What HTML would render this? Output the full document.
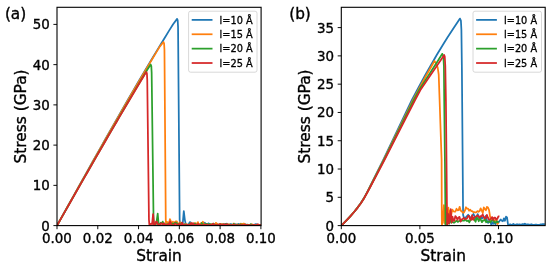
<!DOCTYPE html>
<html lang="en"><head><meta charset="utf-8"><title>Stress-strain curves</title>
<style>html,body{margin:0;padding:0;background:#fff}svg{display:block}</style></head>
<body>
<svg width="550" height="266" viewBox="0 0 550 266" font-family='"DejaVu Sans", "Liberation Sans", sans-serif'>
<rect width="550" height="266" fill="#fff"/>
<clipPath id="cl"><rect x="57.0" y="7.3" width="204.10" height="218.30"/></clipPath>
<clipPath id="cr"><rect x="341.3" y="7.3" width="203.90" height="218.30"/></clipPath>
<g clip-path="url(#cl)" fill="none" stroke-width="1.75" stroke-linejoin="round">
<polyline stroke="#1f77b4" points="57.00,225.60 61.00,218.40 65.01,211.21 69.01,204.02 73.01,196.84 77.02,189.66 81.02,182.49 85.02,175.33 89.03,168.19 93.03,161.05 97.03,153.94 101.04,146.84 105.04,139.76 109.04,132.71 113.05,125.68 117.05,118.67 121.05,111.69 125.06,104.73 129.06,97.81 133.06,90.92 137.07,84.06 141.07,77.24 145.07,70.46 149.08,63.72 153.08,57.01 157.08,50.35 161.09,43.74 165.09,37.17 169.09,30.65 173.10,24.18 177.10,18.90 177.70,20.40 178.05,26.90 179.65,219.60 180.05,224.80 180.80,225.28 181.80,222.53 182.80,222.86 183.80,211.10 184.80,219.60 185.80,224.34 186.80,224.28 187.80,225.25 188.80,223.99 189.80,222.06 190.80,222.61 191.80,225.18 192.80,224.20 193.80,225.12 194.80,224.73 195.80,224.61 196.80,224.06 197.80,225.04 198.80,225.12 199.80,224.33 200.80,224.08 201.80,223.17 202.80,224.79 203.80,224.42 204.80,222.73 205.80,224.26 206.80,224.73 207.80,223.80 208.80,223.44 209.80,225.30 210.80,224.24 211.80,225.07 212.80,224.46 213.80,224.90 214.80,224.52 215.80,225.01 216.80,224.74 217.80,224.19 218.80,225.12 219.80,224.47 220.80,224.98 221.80,225.09 222.80,224.21 223.80,224.04 224.80,224.68 225.80,224.52 226.80,223.65 227.80,225.23 228.80,224.85 229.80,224.66 230.80,224.06 231.80,224.60 232.80,224.78 233.80,224.99 234.80,224.51 235.80,224.19 236.80,224.82 237.80,224.84 238.80,223.86 239.80,225.06 240.80,225.14 241.80,224.71 242.80,225.00 243.80,225.34 244.80,225.08 245.80,224.67 246.80,224.89 247.80,225.27 248.80,224.98 249.80,224.96 250.80,224.55 251.80,224.91 252.80,225.22 253.80,224.90 254.80,224.45 255.80,224.09 256.80,224.25 257.80,224.74 258.80,225.03 259.80,225.29 260.80,224.67"/>
<polyline stroke="#ff7f0e" points="57.00,225.60 60.55,219.25 64.10,212.89 67.65,206.54 71.20,200.20 74.75,193.85 78.30,187.52 81.85,181.19 85.40,174.87 88.95,168.56 92.50,162.26 96.05,155.97 99.60,149.70 103.15,143.44 106.70,137.20 110.25,130.97 113.80,124.77 117.35,118.58 120.90,112.41 124.45,106.27 128.00,100.15 131.55,94.05 135.10,87.98 138.65,81.94 142.20,75.92 145.75,69.94 149.30,63.98 152.85,58.06 156.40,52.17 159.95,46.32 163.50,42.00 164.10,43.50 164.45,50.00 165.75,219.60 166.15,224.80 166.90,222.02 167.90,222.07 168.90,223.91 169.90,219.10 170.90,221.43 171.90,224.62 172.90,221.60 173.90,224.79 174.90,221.91 175.90,221.40 176.90,221.46 177.90,224.12 178.90,223.87 179.90,222.08 180.90,224.49 181.90,223.86 182.90,224.77 183.90,225.32 184.90,224.96 185.90,223.98 186.90,224.64 187.90,224.80 188.90,225.19 189.90,224.97 190.90,223.16 191.90,224.53 192.90,223.36 193.90,225.04 194.90,223.05 195.90,223.25 196.90,224.53 197.90,222.14 198.90,225.26 199.90,224.67 200.90,223.25 201.90,223.45 202.90,221.73 203.90,224.21 204.90,224.46 205.90,224.55 206.90,224.25 207.90,225.00 208.90,224.90 209.90,225.11 210.90,223.97 211.90,225.32 212.90,224.23 213.90,224.84 214.90,224.96 215.90,222.84 216.90,223.67 217.90,224.44 218.90,224.68 219.90,224.70 220.90,224.75 221.90,223.91 222.90,224.48 223.90,224.27 224.90,225.23 225.90,224.62 226.90,224.60 227.90,224.85 228.90,224.21 229.90,224.81 230.90,225.26 231.90,225.11 232.90,225.02 233.90,223.52 234.90,225.28 235.90,225.14 236.90,224.35 237.90,224.82 238.90,224.77 239.90,224.70 240.90,223.56 241.90,224.68 242.90,223.75 243.90,223.50 244.90,224.65 245.90,225.02 246.90,224.96 247.90,224.88 248.90,224.90 249.90,225.18 250.90,225.21 251.90,224.13 252.90,225.22 253.90,224.75 254.90,225.25 255.90,224.98 256.90,224.87 257.90,224.71 258.90,225.11 259.90,225.11 260.90,225.28"/>
<polyline stroke="#2ca02c" points="57.00,225.60 60.12,220.10 63.25,214.60 66.37,209.10 69.49,203.60 72.62,198.11 75.74,192.62 78.86,187.14 81.99,181.66 85.11,176.19 88.23,170.72 91.36,165.26 94.48,159.81 97.60,154.38 100.73,148.95 103.85,143.53 106.97,138.12 110.10,132.73 113.22,127.35 116.34,121.99 119.47,116.64 122.59,111.30 125.71,105.99 128.84,100.69 131.96,95.41 135.08,90.15 138.21,84.90 141.33,79.68 144.45,74.48 147.58,69.31 150.70,64.60 151.30,66.10 151.65,72.60 153.55,219.60 153.95,224.80 154.70,224.35 155.70,224.99 156.70,220.60 157.70,213.60 158.70,225.32 159.70,224.18 160.70,222.72 161.70,223.63 162.70,221.60 163.70,223.98 164.70,224.99 165.70,224.33 166.70,224.83 167.70,224.35 168.70,223.52 169.70,223.93 170.70,223.19 171.70,225.28 172.70,223.49 173.70,225.34 174.70,222.96 175.70,222.65 176.70,223.09 177.70,224.65 178.70,224.57 179.70,223.31 180.70,224.93 181.70,223.99 182.70,224.72 183.70,225.01 184.70,224.12 185.70,225.14 186.70,224.93 187.70,225.19 188.70,224.58 189.70,224.22 190.70,224.41 191.70,224.76 192.70,224.10 193.70,224.94 194.70,223.46 195.70,224.29 196.70,224.79 197.70,224.60 198.70,224.87 199.70,225.22 200.70,225.26 201.70,223.00 202.70,225.16 203.70,224.33 204.70,224.67 205.70,223.93 206.70,223.91 207.70,224.47 208.70,224.59 209.70,223.83 210.70,225.33 211.70,224.37 212.70,225.12 213.70,223.68 214.70,225.22 215.70,224.97 216.70,224.99 217.70,225.10 218.70,224.88 219.70,224.64 220.70,224.16 221.70,225.17 222.70,225.18 223.70,225.07 224.70,224.58 225.70,224.02 226.70,225.03 227.70,224.82 228.70,224.65 229.70,224.82 230.70,224.58 231.70,225.07 232.70,224.82 233.70,223.90 234.70,224.78 235.70,224.91 236.70,224.93 237.70,224.48 238.70,225.10 239.70,224.97 240.70,224.31 241.70,224.51 242.70,225.01 243.70,225.34 244.70,224.57 245.70,224.55 246.70,225.12 247.70,224.60 248.70,224.97 249.70,225.08 250.70,224.15 251.70,224.92 252.70,225.19 253.70,224.96 254.70,225.25 255.70,225.32 256.70,225.06 257.70,225.22 258.70,224.64 259.70,225.26 260.70,225.17"/>
<polyline stroke="#d62728" points="57.00,225.60 59.98,220.37 62.95,215.15 65.93,209.92 68.91,204.70 71.88,199.48 74.86,194.26 77.84,189.05 80.81,183.84 83.79,178.64 86.77,173.45 89.74,168.26 92.72,163.08 95.70,157.90 98.67,152.74 101.65,147.58 104.63,142.44 107.60,137.30 110.58,132.18 113.56,127.07 116.53,121.98 119.51,116.89 122.49,111.82 125.46,106.77 128.44,101.73 131.42,96.71 134.39,91.71 137.37,86.72 140.35,81.75 143.32,76.80 146.30,71.90 146.90,73.40 147.25,79.90 148.95,219.60 149.35,224.80 150.10,224.43 151.10,223.59 152.10,224.19 153.10,214.20 154.10,224.82 155.10,224.92 156.10,221.60 157.10,222.10 158.10,224.95 159.10,224.40 160.10,224.96 161.10,223.18 162.10,223.56 163.10,224.67 164.10,223.29 165.10,225.06 166.10,224.88 167.10,225.16 168.10,223.96 169.10,224.88 170.10,221.40 171.10,223.88 172.10,224.97 173.10,225.00 174.10,225.14 175.10,223.40 176.10,224.13 177.10,224.87 178.10,225.31 179.10,223.70 180.10,224.65 181.10,225.18 182.10,222.55 183.10,224.63 184.10,224.51 185.10,225.32 186.10,225.31 187.10,224.60 188.10,225.24 189.10,224.70 190.10,225.17 191.10,223.14 192.10,224.30 193.10,223.08 194.10,225.24 195.10,224.66 196.10,224.86 197.10,225.22 198.10,223.88 199.10,224.65 200.10,224.69 201.10,225.21 202.10,225.32 203.10,225.11 204.10,224.44 205.10,224.98 206.10,225.11 207.10,224.48 208.10,225.22 209.10,225.30 210.10,224.83 211.10,224.98 212.10,224.94 213.10,223.57 214.10,224.71 215.10,225.00 216.10,225.22 217.10,224.71 218.10,225.09 219.10,225.13 220.10,223.89 221.10,225.21 222.10,225.04 223.10,224.42 224.10,224.30 225.10,224.54 226.10,224.70 227.10,224.13 228.10,225.04 229.10,225.33 230.10,224.83 231.10,225.28 232.10,225.23 233.10,224.56 234.10,225.12 235.10,225.12 236.10,225.17 237.10,225.11 238.10,225.29 239.10,225.19 240.10,225.34 241.10,224.97 242.10,225.10 243.10,225.08 244.10,225.06 245.10,224.51 246.10,225.30 247.10,224.88 248.10,225.16 249.10,225.08 250.10,225.00 251.10,225.29 252.10,225.23 253.10,225.07 254.10,224.77 255.10,225.08 256.10,225.31 257.10,224.63 258.10,224.29 259.10,225.15 260.10,225.11 261.10,225.16"/>
</g>
<g clip-path="url(#cr)" fill="none" stroke-width="1.75" stroke-linejoin="round">
<polyline stroke="#1f77b4" points="341.40,225.60 346.00,220.80 350.00,216.60 354.00,212.00 357.50,207.60 360.50,203.40 363.50,198.80 367.00,192.30 370.00,186.50 383.00,160.50 397.60,130.00 411.90,100.00 417.20,90.00 425.30,75.00 431.00,65.00 437.00,54.50 442.80,45.00 447.60,37.20 454.00,27.50 460.00,18.60 460.90,20.50 461.40,30.00 461.90,70.00 463.10,215.00 464.00,217.88 465.05,218.72 466.10,217.00 467.15,215.93 468.20,214.78 469.25,216.42 470.30,217.48 471.35,217.86 472.40,215.40 473.45,213.98 474.50,216.16 475.55,218.57 476.60,218.13 477.65,214.04 478.70,216.28 479.75,219.37 480.80,216.73 481.85,218.46 482.90,217.61 483.95,217.38 485.00,217.74 486.05,215.71 487.10,221.74 488.15,222.90 489.20,220.70 490.25,219.77 491.30,225.21 492.35,222.16 493.40,223.76 494.45,221.98 495.50,224.44 496.55,221.55 497.60,221.68 498.65,222.27 499.70,220.69 500.75,219.51 501.80,220.76 502.85,221.24 503.90,218.40 504.95,220.80 506.00,216.69 507.05,217.51 508.10,225.20 509.15,224.75 510.20,224.29 511.25,224.88 512.30,224.88 513.35,223.81 514.40,224.77 515.45,224.76 516.50,224.37 517.55,224.25 518.60,224.49 519.65,224.30 520.70,224.72 521.75,224.44 522.80,224.10 523.85,224.59 524.90,223.56 525.95,224.55 527.00,224.44 528.05,224.44 529.10,224.57 530.15,224.86 531.20,224.16 532.25,224.68 533.30,224.80 534.35,224.89 535.40,224.56 536.45,224.70 537.50,224.82 538.55,224.77 539.60,224.84 540.65,224.42 541.70,224.41 542.75,224.19 543.80,224.24 544.85,224.19"/>
<polyline stroke="#ff7f0e" points="341.40,225.60 346.01,220.80 350.02,216.60 354.04,212.00 357.57,207.60 360.59,203.40 363.62,198.80 367.16,192.30 370.21,186.50 383.45,160.50 398.40,130.00 413.10,100.00 418.40,90.00 426.50,75.00 432.20,65.00 434.50,60.90 436.20,63.60 437.70,67.60 438.70,74.50 439.60,100.00 441.60,160.00 441.80,216.00 441.90,224.60 442.90,222.60 443.90,205.10 445.00,223.60 446.30,208.60 447.30,221.60 448.40,207.60 449.40,217.60 450.40,210.60 451.30,214.60 452.30,209.54 453.35,211.13 454.40,211.66 455.45,211.51 456.50,208.72 457.55,210.41 458.60,210.21 459.65,206.85 460.70,210.68 461.75,211.29 462.80,212.74 463.85,212.66 464.90,210.71 465.95,207.26 467.00,208.68 468.05,208.55 469.10,210.73 470.15,209.59 471.20,211.13 472.25,211.19 473.30,212.23 474.35,212.20 475.40,212.51 476.45,212.16 477.50,211.08 478.55,211.84 479.60,211.07 480.65,208.32 481.70,210.40 482.75,213.03 483.80,207.45 484.85,208.92 485.90,210.24 486.95,206.85 488.00,207.57 489.05,210.14 490.10,216.55 491.15,220.44 492.20,219.43 493.25,218.46 494.30,221.11 495.35,220.56 496.40,218.93 497.45,224.13 498.50,222.48"/>
<polyline stroke="#2ca02c" points="341.40,225.60 346.01,220.80 350.04,216.60 354.07,212.00 357.60,207.60 360.64,203.40 363.69,198.80 367.26,192.30 370.33,186.50 383.71,160.50 398.87,130.00 413.80,100.00 419.10,90.00 419.10,90.00 428.80,75.00 438.40,60.00 442.30,53.80 443.30,55.80 443.90,66.00 444.20,100.00 444.90,160.00 445.50,224.60 446.20,212.60 447.20,224.60 448.30,214.60 449.40,223.60 450.50,217.60 451.50,222.60 452.50,221.67 453.55,222.57 454.60,222.53 455.65,221.32 456.70,220.78 457.75,221.94 458.80,221.23 459.85,220.43 460.90,220.94 461.95,220.26 463.00,220.75 464.05,220.71 465.10,219.11 466.15,220.55 467.20,221.14 468.25,220.45 469.30,222.40 470.35,220.41 471.40,219.05 472.45,219.24 473.50,218.14 474.55,219.99 475.60,221.75 476.65,217.66 477.70,218.69 478.75,221.27 479.80,218.35 480.85,219.96 481.90,222.18 482.95,220.50 484.00,220.61 485.05,218.09 486.10,222.25 487.15,221.60 488.20,221.63 489.25,221.75 490.30,222.40 491.35,221.04 492.40,220.01 493.45,220.55 494.50,222.41 495.55,222.68 496.60,221.16 497.65,222.15 498.70,222.06"/>
<polyline stroke="#d62728" points="341.40,225.60 346.02,220.80 350.06,216.60 354.11,212.00 357.67,207.60 360.74,203.40 363.82,198.80 367.44,192.30 370.56,186.50 384.20,160.50 399.74,130.00 415.10,100.00 420.40,90.00 420.40,90.00 430.60,75.00 441.20,59.50 444.20,55.00 444.75,56.50 445.30,66.00 445.90,100.00 446.50,160.00 447.10,224.60 447.90,213.60 448.80,223.60 449.80,216.60 450.70,209.10 451.60,222.60 452.50,216.60 453.40,220.60 454.30,220.78 455.35,216.06 456.40,217.41 457.45,219.87 458.50,217.42 459.55,216.85 460.60,221.71 461.65,219.31 462.70,219.10 463.75,217.76 464.80,218.76 465.85,218.90 466.90,218.68 467.95,216.19 469.00,215.79 470.05,219.28 471.10,219.80 472.15,215.10 473.20,219.87 474.25,217.55 475.30,216.75 476.35,216.17 477.40,215.46 478.45,216.29 479.50,217.93 480.55,216.14 481.60,216.48 482.65,214.36 483.70,216.82 484.75,218.54 485.80,218.16 486.85,214.91 487.90,217.50 488.95,219.54 490.00,219.35 491.05,218.60 492.10,217.05 493.15,219.92 494.20,217.73 495.25,217.57 496.30,219.51 497.35,218.84 498.40,216.30 499.45,216.36"/>
</g>
<rect x="57.0" y="7.3" width="204.10" height="218.30" fill="none" stroke="#000" stroke-width="1.1"/>
<path d="M57.00,225.6v3.6M97.78,225.6v3.6M138.56,225.6v3.6M179.34,225.6v3.6M220.12,225.6v3.6M260.90,225.6v3.6M57.0,225.60h-3.6M57.0,185.36h-3.6M57.0,145.12h-3.6M57.0,104.88h-3.6M57.0,64.64h-3.6M57.0,24.40h-3.6" stroke="#000" stroke-width="0.95" fill="none"/>
<g font-size="13.4" fill="#000" stroke="#000" stroke-width="0.36">
<text x="57.00" y="243.30" text-anchor="middle">0.00</text>
<text x="97.78" y="243.30" text-anchor="middle">0.02</text>
<text x="138.56" y="243.30" text-anchor="middle">0.04</text>
<text x="179.34" y="243.30" text-anchor="middle">0.06</text>
<text x="220.12" y="243.30" text-anchor="middle">0.08</text>
<text x="260.90" y="243.30" text-anchor="middle">0.10</text>
<text x="49.80" y="230.60" text-anchor="end">0</text>
<text x="49.80" y="190.36" text-anchor="end">10</text>
<text x="49.80" y="150.12" text-anchor="end">20</text>
<text x="49.80" y="109.88" text-anchor="end">30</text>
<text x="49.80" y="69.64" text-anchor="end">40</text>
<text x="49.80" y="29.40" text-anchor="end">50</text>
</g>
<rect x="341.3" y="7.3" width="203.90" height="218.30" fill="none" stroke="#000" stroke-width="1.1"/>
<path d="M341.30,225.6v3.6M419.90,225.6v3.6M498.50,225.6v3.6M341.3,225.60h-3.6M341.3,197.31h-3.6M341.3,169.03h-3.6M341.3,140.74h-3.6M341.3,112.46h-3.6M341.3,84.17h-3.6M341.3,55.89h-3.6M341.3,27.60h-3.6" stroke="#000" stroke-width="0.95" fill="none"/>
<g font-size="13.4" fill="#000" stroke="#000" stroke-width="0.36">
<text x="341.30" y="243.30" text-anchor="middle">0.00</text>
<text x="419.90" y="243.30" text-anchor="middle">0.05</text>
<text x="498.50" y="243.30" text-anchor="middle">0.10</text>
<text x="334.10" y="230.60" text-anchor="end">0</text>
<text x="334.10" y="202.31" text-anchor="end">5</text>
<text x="334.10" y="174.03" text-anchor="end">10</text>
<text x="334.10" y="145.74" text-anchor="end">15</text>
<text x="334.10" y="117.46" text-anchor="end">20</text>
<text x="334.10" y="89.17" text-anchor="end">25</text>
<text x="334.10" y="60.89" text-anchor="end">30</text>
<text x="334.10" y="32.60" text-anchor="end">35</text>
</g>
<rect x="188.6" y="11.2" width="68.4" height="61.0" rx="2" ry="2" fill="#fff" fill-opacity="0.8" stroke="#ccc" stroke-opacity="0.8" stroke-width="0.95"/>
<path d="M191.70,19.90h20.8" stroke="#1f77b4" stroke-width="1.75" fill="none"/>
<text x="219.60" y="23.65" font-size="9.75" stroke="#000" stroke-width="0.29">l=10 Å</text>
<path d="M191.70,34.27h20.8" stroke="#ff7f0e" stroke-width="1.75" fill="none"/>
<text x="219.60" y="38.02" font-size="9.75" stroke="#000" stroke-width="0.29">l=15 Å</text>
<path d="M191.70,48.64h20.8" stroke="#2ca02c" stroke-width="1.75" fill="none"/>
<text x="219.60" y="52.39" font-size="9.75" stroke="#000" stroke-width="0.29">l=20 Å</text>
<path d="M191.70,63.01h20.8" stroke="#d62728" stroke-width="1.75" fill="none"/>
<text x="219.60" y="66.76" font-size="9.75" stroke="#000" stroke-width="0.29">l=25 Å</text>
<rect x="473.0" y="11.2" width="68.5" height="61.0" rx="2" ry="2" fill="#fff" fill-opacity="0.8" stroke="#ccc" stroke-opacity="0.8" stroke-width="0.95"/>
<path d="M476.10,19.90h20.8" stroke="#1f77b4" stroke-width="1.75" fill="none"/>
<text x="504.00" y="23.65" font-size="9.75" stroke="#000" stroke-width="0.29">l=10 Å</text>
<path d="M476.10,34.27h20.8" stroke="#ff7f0e" stroke-width="1.75" fill="none"/>
<text x="504.00" y="38.02" font-size="9.75" stroke="#000" stroke-width="0.29">l=15 Å</text>
<path d="M476.10,48.64h20.8" stroke="#2ca02c" stroke-width="1.75" fill="none"/>
<text x="504.00" y="52.39" font-size="9.75" stroke="#000" stroke-width="0.29">l=20 Å</text>
<path d="M476.10,63.01h20.8" stroke="#d62728" stroke-width="1.75" fill="none"/>
<text x="504.00" y="66.76" font-size="9.75" stroke="#000" stroke-width="0.29">l=25 Å</text>
<g font-size="15.4" fill="#000" stroke="#000" stroke-width="0.36">
<text x="159.05" y="261.2" text-anchor="middle">Strain</text>
<text x="443.25" y="261.2" text-anchor="middle">Strain</text>
<text transform="translate(26.1,116.45) rotate(-90)" text-anchor="middle">Stress (GPa)</text>
<text transform="translate(309.7,116.45) rotate(-90)" text-anchor="middle">Stress (GPa)</text>
</g>
<g font-size="15.3" fill="#000" stroke="#000" stroke-width="0.36">
<text x="4.9" y="18.7">(a)</text>
<text x="289.2" y="18.7">(b)</text>
</g>
</svg>
</body></html>
